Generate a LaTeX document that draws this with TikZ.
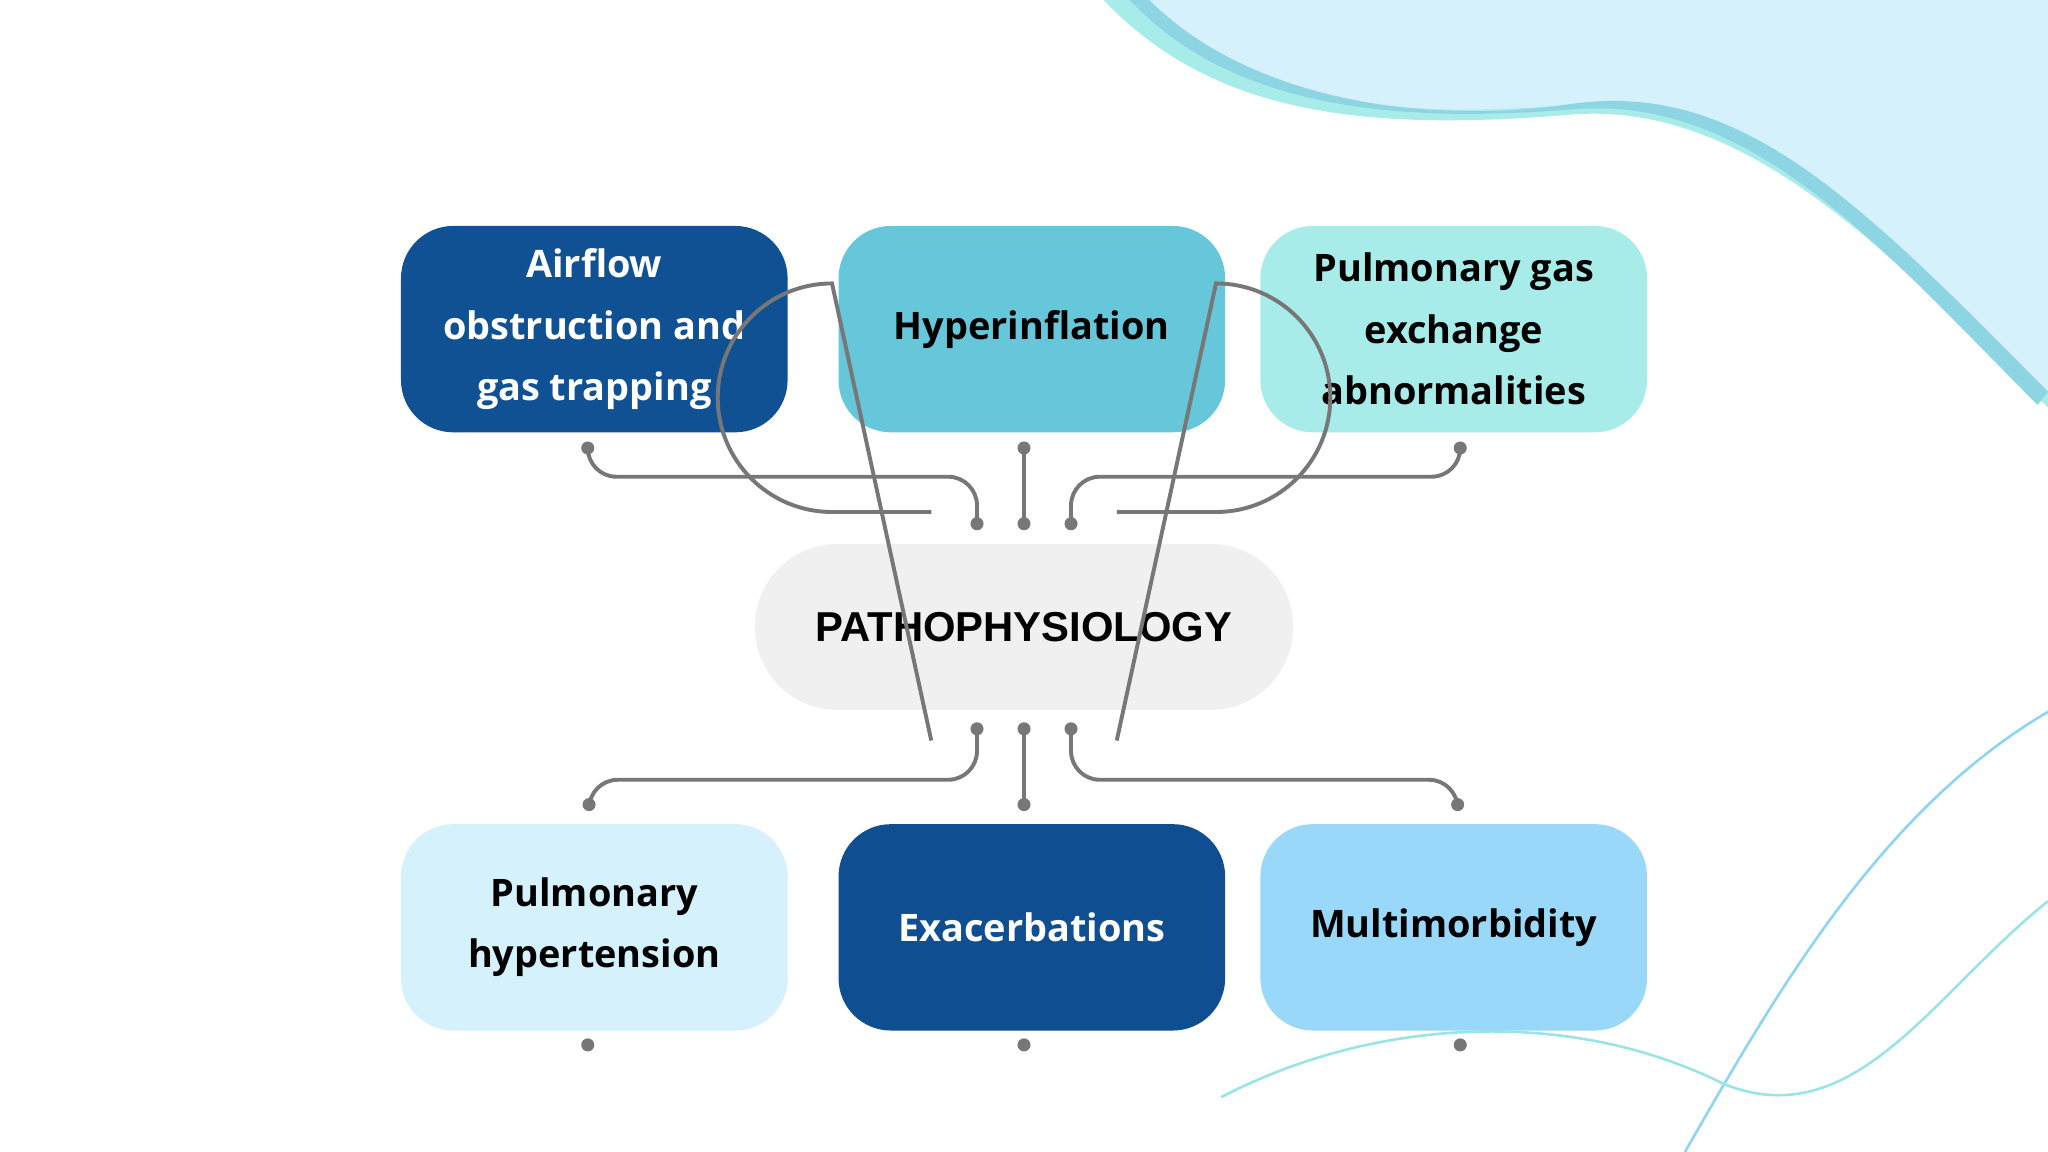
\documentclass[tikz,border=0pt]{standalone}
\usepackage{fontspec}
\setmainfont{Open Sans}
\newfontfamily\arialb{Liberation Sans}
\definecolor{cA}{HTML}{0F5192}
\definecolor{cB}{HTML}{67C7DA}
\definecolor{cC}{HTML}{A8ECE9}
\definecolor{cD}{HTML}{D5F1FC}
\definecolor{cE}{HTML}{0F4F91}
\definecolor{cF}{HTML}{99D8F9}
\definecolor{ln}{HTML}{777777}
\definecolor{pill}{HTML}{F0F0F0}
\begin{document}
\begin{tikzpicture}[x=1pt,y=-1pt,
  box/.style={rounded corners=40pt,minimum width=296pt,minimum height=158pt,inner sep=0pt,align=center,font=\bfseries\fontsize{29}{47}\selectfont},
  dot/.style={circle,fill=ln,inner sep=0pt,minimum size=10pt},
  conn/.style={draw=ln,line width=3pt,rounded corners=22pt}]
\useasboundingbox (0,0) rectangle (1568,882);
% decorations top right
\fill[cD] (880,0) .. controls (960,80) and (1100,95) .. (1200,80) .. controls (1330,60) and (1420,150) .. (1568,300) -- (1568,0) -- cycle;
\fill[cC] (845,0) .. controls (930,90) and (1050,100) .. (1200,88) .. controls (1340,75) and (1450,200) .. (1568,312) -- (1568,300) .. controls (1440,170) and (1330,70) .. (1200,80) .. controls (1080,92) and (950,80) .. (870,0) -- cycle;
\fill[cB!75] (865,0) .. controls (940,80) and (1060,95) .. (1200,84) .. controls (1340,70) and (1440,190) .. (1560,310) -- (1568,300) .. controls (1420,150) and (1330,60) .. (1200,80) .. controls (1100,95) and (960,80) .. (880,0) -- cycle;
% decorations bottom right
\draw[cF!80!cB,line width=2pt] (1290,882) .. controls (1360,760) and (1440,620) .. (1568,545);
\draw[cC!80!cB,line width=2pt] (935,840) .. controls (1050,780) and (1200,770) .. (1320,830) .. controls (1420,870) and (1480,760) .. (1568,690);
% boxes
\node[box,fill=cA,text=white] (a) at (455,252) {Airflow\\obstruction and\\gas trapping};
\node[box,fill=cB] (b) at (790,252) {Hyperinflation};
\node[box,fill=cC] (c) at (1113,252) {Pulmonary gas\\exchange\\abnormalities};
\node[box,fill=cD] (d) at (455,710) {Pulmonary\\hypertension};
\node[box,fill=cE,text=white] (e) at (790,710) {Exacerbations};
\node[box,fill=cF] (f) at (1113,710) {Multimorbidity};
% center
\node[fill=pill,rounded corners=63pt,minimum width=412pt,minimum height=127pt,font=\arialb\bfseries\fontsize{32}{38}\selectfont] (p) at (784,480) {PATHOPHYSIOLOGY};
\draw[ln,line width=3pt] (713,392) -- (637,392) arc[start angle=90,end angle=270,radius=87.5] -- (713,567);
\draw[ln,line width=3pt] (855,392) -- (931,392) arc[start angle=90,end angle=-90,radius=87.5] -- (855,567);
% dots
\node[dot] (t1) at (450,343) {}; \node[dot] (t2) at (784,343) {}; \node[dot] (t3) at (1118,343) {};
\node[dot] (u1) at (748,401) {}; \node[dot] (u2) at (784,401) {}; \node[dot] (u3) at (820,401) {};
\node[dot] (v1) at (748,558) {}; \node[dot] (v2) at (784,558) {}; \node[dot] (v3) at (820,558) {};
\node[dot] (w1) at (451,616) {}; \node[dot] (w2) at (784,616) {}; \node[dot] (w3) at (1116,616) {};
\node[dot] (z1) at (450,800) {}; \node[dot] (z2) at (784,800) {}; \node[dot] (z3) at (1118,800) {};
% connectors
\draw[conn] (t1.center) |- (748,365) -- (u1.center);
\draw[conn] (t2.center) -- (u2.center);
\draw[conn] (t3.center) |- (820,365) -- (u3.center);
\draw[conn] (v1.center) |- (451,597) -- (w1.center);
\draw[conn] (v2.center) -- (w2.center);
\draw[conn] (v3.center) |- (1116,597) -- (w3.center);
\end{tikzpicture}
\end{document}
